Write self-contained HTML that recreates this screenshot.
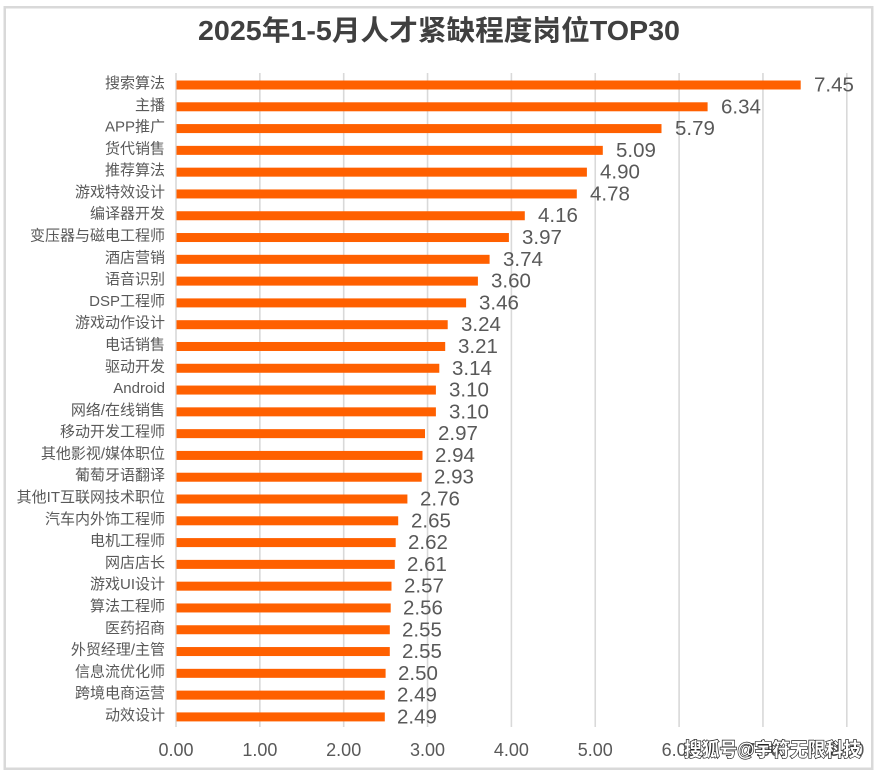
<!DOCTYPE html>
<html>
<head>
<meta charset="utf-8">
<style>
html,body{margin:0;padding:0;background:#fff;}
svg{display:block;}
text{font-family:"Liberation Sans","Noto Sans CJK SC",sans-serif;}
</style>
</head>
<body>
<svg width="878" height="774" viewBox="0 0 878 774" xmlns="http://www.w3.org/2000/svg">
<rect x="0" y="0" width="878" height="774" fill="#fff"/>
<rect x="4.75" y="7.25" width="867.5" height="761.5" fill="none" stroke="#d9d9d9" stroke-width="2.5"/>
<text x="198" y="40" font-size="28" font-weight="bold" fill="#404040" textLength="482" lengthAdjust="spacingAndGlyphs">2025年1-5月人才紧缺程度岗位TOP30</text>
<g stroke="#d9d9d9" stroke-width="1.6">
<line x1="176" y1="73" x2="176" y2="727"/>
<line x1="259.85" y1="73" x2="259.85" y2="727"/>
<line x1="343.7" y1="73" x2="343.7" y2="727"/>
<line x1="427.55" y1="73" x2="427.55" y2="727"/>
<line x1="511.4" y1="73" x2="511.4" y2="727"/>
<line x1="595.25" y1="73" x2="595.25" y2="727"/>
<line x1="679.1" y1="73" x2="679.1" y2="727"/>
<line x1="762.95" y1="73" x2="762.95" y2="727"/>
<line x1="846.8" y1="73" x2="846.8" y2="727"/>
</g>
<g font-size="18" fill="#595959" text-anchor="middle">
<text x="176" y="756">0.00</text>
<text x="259.85" y="756">1.00</text>
<text x="343.7" y="756">2.00</text>
<text x="427.55" y="756">3.00</text>
<text x="511.4" y="756">4.00</text>
<text x="595.25" y="756">5.00</text>
<text x="679.1" y="756">6.00</text>
<text x="762.95" y="756">7.00</text>
<text x="846.8" y="756">8.00</text>
</g>
<g fill="#ff6000">
<rect x="176.5" y="80.5" width="624.2" height="9"/>
<rect x="176.5" y="102.29" width="531.1" height="9"/>
<rect x="176.5" y="124.08" width="485.0" height="9"/>
<rect x="176.5" y="145.87" width="426.3" height="9"/>
<rect x="176.5" y="167.66" width="410.4" height="9"/>
<rect x="176.5" y="189.45" width="400.3" height="9"/>
<rect x="176.5" y="211.24" width="348.3" height="9"/>
<rect x="176.5" y="233.03" width="332.4" height="9"/>
<rect x="176.5" y="254.82" width="313.1" height="9"/>
<rect x="176.5" y="276.61" width="301.4" height="9"/>
<rect x="176.5" y="298.4" width="289.6" height="9"/>
<rect x="176.5" y="320.19" width="271.2" height="9"/>
<rect x="176.5" y="341.98" width="268.7" height="9"/>
<rect x="176.5" y="363.77" width="262.8" height="9"/>
<rect x="176.5" y="385.56" width="259.4" height="9"/>
<rect x="176.5" y="407.35" width="259.4" height="9"/>
<rect x="176.5" y="429.14" width="248.5" height="9"/>
<rect x="176.5" y="450.93" width="246.0" height="9"/>
<rect x="176.5" y="472.72" width="245.2" height="9"/>
<rect x="176.5" y="494.51" width="230.9" height="9"/>
<rect x="176.5" y="516.3" width="221.7" height="9"/>
<rect x="176.5" y="538.09" width="219.2" height="9"/>
<rect x="176.5" y="559.88" width="218.3" height="9"/>
<rect x="176.5" y="581.67" width="215.0" height="9"/>
<rect x="176.5" y="603.46" width="214.2" height="9"/>
<rect x="176.5" y="625.25" width="213.3" height="9"/>
<rect x="176.5" y="647.04" width="213.3" height="9"/>
<rect x="176.5" y="668.83" width="209.1" height="9"/>
<rect x="176.5" y="690.62" width="208.3" height="9"/>
<rect x="176.5" y="712.41" width="208.3" height="9"/>
</g>
<g font-size="20.5" fill="#595959" dominant-baseline="central">
<text x="814" y="85">7.45</text>
<text x="721" y="106.8">6.34</text>
<text x="675" y="128.6">5.79</text>
<text x="616" y="150.4">5.09</text>
<text x="600" y="172.2">4.90</text>
<text x="590" y="194">4.78</text>
<text x="538" y="215.7">4.16</text>
<text x="522" y="237.5">3.97</text>
<text x="503" y="259.3">3.74</text>
<text x="491" y="281.1">3.60</text>
<text x="479" y="302.9">3.46</text>
<text x="461" y="324.7">3.24</text>
<text x="458" y="346.5">3.21</text>
<text x="452" y="368.3">3.14</text>
<text x="449" y="390.1">3.10</text>
<text x="449" y="411.9">3.10</text>
<text x="438" y="433.6">2.97</text>
<text x="435" y="455.4">2.94</text>
<text x="434" y="477.2">2.93</text>
<text x="420" y="499">2.76</text>
<text x="411" y="520.8">2.65</text>
<text x="408" y="542.6">2.62</text>
<text x="407" y="564.4">2.61</text>
<text x="404" y="586.2">2.57</text>
<text x="403" y="608">2.56</text>
<text x="402" y="629.8">2.55</text>
<text x="402" y="651.5">2.55</text>
<text x="398" y="673.3">2.50</text>
<text x="397" y="695.1">2.49</text>
<text x="397" y="716.9">2.49</text>
</g>
<g font-size="15" fill="#595959" text-anchor="end" dominant-baseline="central">
<text x="165" y="83.5">搜索算法</text>
<text x="165" y="105.3">主播</text>
<text x="165" y="127.1">APP推广</text>
<text x="165" y="148.9">货代销售</text>
<text x="165" y="170.7">推荐算法</text>
<text x="165" y="192.5">游戏特效设计</text>
<text x="165" y="214.2">编译器开发</text>
<text x="165" y="236">变压器与磁电工程师</text>
<text x="165" y="257.8">酒店营销</text>
<text x="165" y="279.6">语音识别</text>
<text x="165" y="301.4">DSP工程师</text>
<text x="165" y="323.2">游戏动作设计</text>
<text x="165" y="345">电话销售</text>
<text x="165" y="366.8">驱动开发</text>
<text x="165" y="388.6">Android</text>
<text x="165" y="410.4">网络/在线销售</text>
<text x="165" y="432.1">移动开发工程师</text>
<text x="165" y="453.9">其他影视/媒体职位</text>
<text x="165" y="475.7">葡萄牙语翻译</text>
<text x="165" y="497.5">其他IT互联网技术职位</text>
<text x="165" y="519.3">汽车内外饰工程师</text>
<text x="165" y="541.1">电机工程师</text>
<text x="165" y="562.9">网店店长</text>
<text x="165" y="584.7">游戏UI设计</text>
<text x="165" y="606.5">算法工程师</text>
<text x="165" y="628.3">医药招商</text>
<text x="165" y="650">外贸经理/主管</text>
<text x="165" y="671.8">信息流优化师</text>
<text x="165" y="693.6">跨境电商运营</text>
<text x="165" y="715.4">动效设计</text>
</g>
<text x="684" y="756" font-size="19" font-weight="bold" fill="#fff" stroke="#222" stroke-width="1.4" paint-order="stroke" textLength="177" lengthAdjust="spacingAndGlyphs">搜狐号@宇符无限科技</text>
</svg>
</body>
</html>
